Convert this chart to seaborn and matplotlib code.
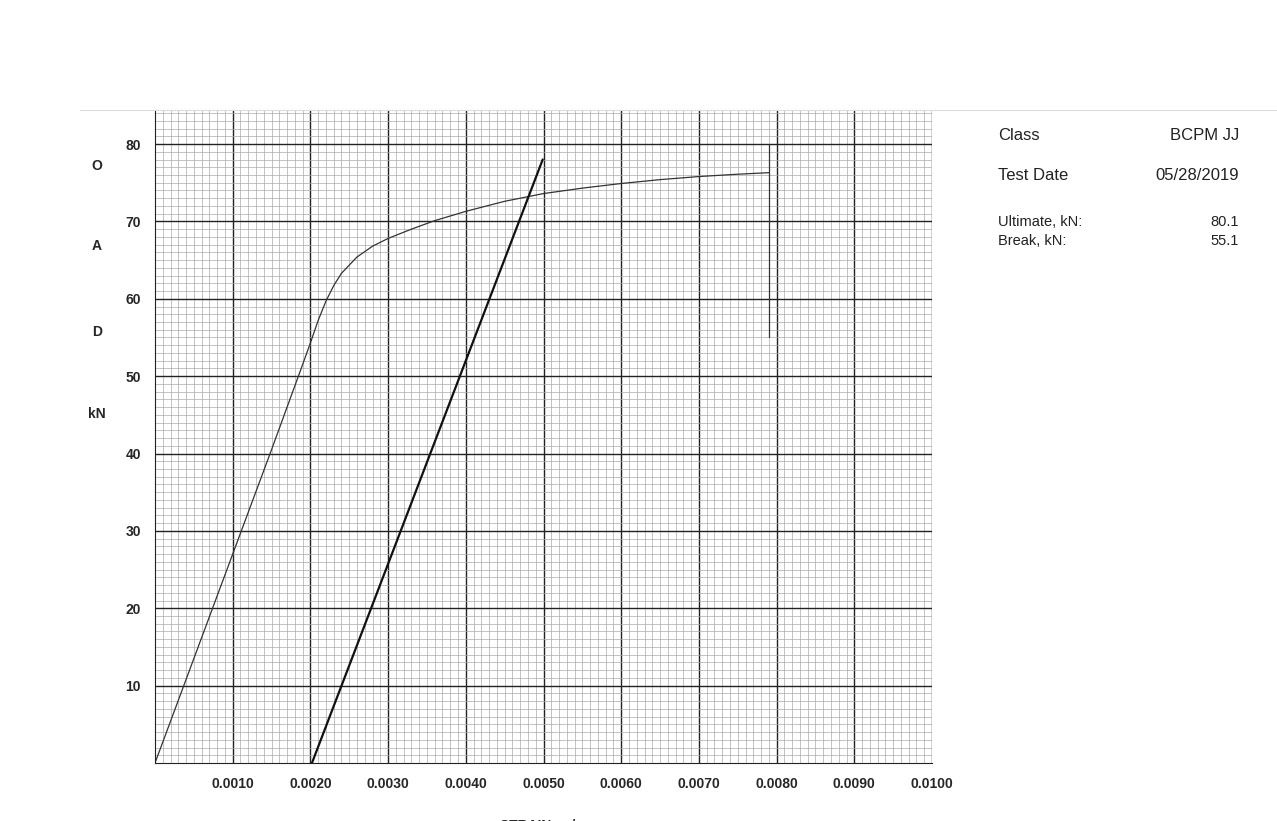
import numpy as np
import matplotlib
matplotlib.use('Agg')
import matplotlib.pyplot as plt
import seaborn as sns
import pandas as pd

sns.set_style('white')
plt.rcParams['font.family'] = ['Liberation Sans', 'DejaVu Sans']

# load-strain curve
strain = [0.0, 0.0005, 0.0010, 0.0015, 0.0019, 0.0020, 0.0021, 0.0022, 0.0023,
          0.0024, 0.0026, 0.0028, 0.0030, 0.0033, 0.0036, 0.0040, 0.0045,
          0.0050, 0.0055, 0.0060, 0.0065, 0.0070, 0.0075, 0.0079]
load = [0.0, 13.5, 27.0, 40.5, 51.5, 54.3, 57.2, 59.7, 61.7, 63.3, 65.4, 66.8,
        67.8, 69.0, 70.1, 71.3, 72.6, 73.6, 74.3, 74.9, 75.4, 75.8, 76.1, 76.3]
offset_strain = [0.00202, 0.00499]
offset_load = [0.0, 78.0]
break_strain = [0.0079, 0.0079]
break_load = [55.0, 80.0]

xticks = [0.001 * i for i in range(1, 11)]
yticks = [10, 20, 30, 40, 50, 60, 70, 80]

fig = plt.figure(figsize=(12.77, 8.21), dpi=100)
ax = fig.add_axes([155 / 1277, 1 - 763 / 821, 777 / 1277, 653 / 821])

df = pd.DataFrame({'strain': strain, 'load': load})
sns.lineplot(data=df, x='strain', y='load', ax=ax, color='#333333', lw=0.9)
sns.lineplot(x=offset_strain, y=offset_load, ax=ax, color='#111111', lw=1.6)
ax.plot(break_strain, break_load, color='#333333', lw=0.9)

ax.set_xlim(0, 0.0100)
ax.set_ylim(0, 84.4)
ax.set_xticks(xticks)
ax.set_xticklabels([f'{v:.4f}' for v in xticks], fontweight='bold', fontsize=10)
ax.set_yticks(yticks)
ax.set_yticklabels([str(v) for v in yticks], fontweight='bold', fontsize=10)
ax.set_xticks(np.arange(0, 0.01001, 0.0001), minor=True)
ax.set_yticks(np.arange(0, 84.5, 1), minor=True)
ax.grid(which='minor', color='#aaaaaa', lw=0.5)
ax.grid(which='major', color='#222222', lw=1.0)
ax.tick_params(which='both', length=0, pad=10)
for s in ax.spines.values():
    s.set_visible(False)
ax.spines['bottom'].set_visible(True)
ax.spines['left'].set_visible(True)
ax.spines['bottom'].set_color('#222222')
ax.spines['left'].set_color('#222222')
ax.set_xlabel('STRAIN, m/m', fontweight='bold', fontsize=10, labelpad=20)
ax.set_ylabel('')

for ch, yy in [('O', 166), ('A', 246), ('D', 332), ('kN', 414)]:
    fig.text(97 / 1277, 1 - yy / 821, ch, fontweight='bold', fontsize=10,
             ha='center', va='center')

fig.add_artist(plt.Line2D([80 / 1277, 1], [1 - 110 / 821] * 2,
                          color='#dddddd', lw=0.8))

info = [('Class', 'BCPM JJ', 136, 12), ('Test Date', '05/28/2019', 175, 12),
        ('Ultimate, kN:', '80.1', 222, 10.5), ('Break, kN:', '55.1', 241, 10.5)]
for lab, val, yy, fs in info:
    fig.text(998 / 1277, 1 - yy / 821, lab, fontsize=fs, va='center', color='#222222')
    fig.text(1239 / 1277, 1 - yy / 821, val, fontsize=fs, va='center', ha='right',
             color='#222222')

fig.savefig('out.png', dpi=100, facecolor='white')
